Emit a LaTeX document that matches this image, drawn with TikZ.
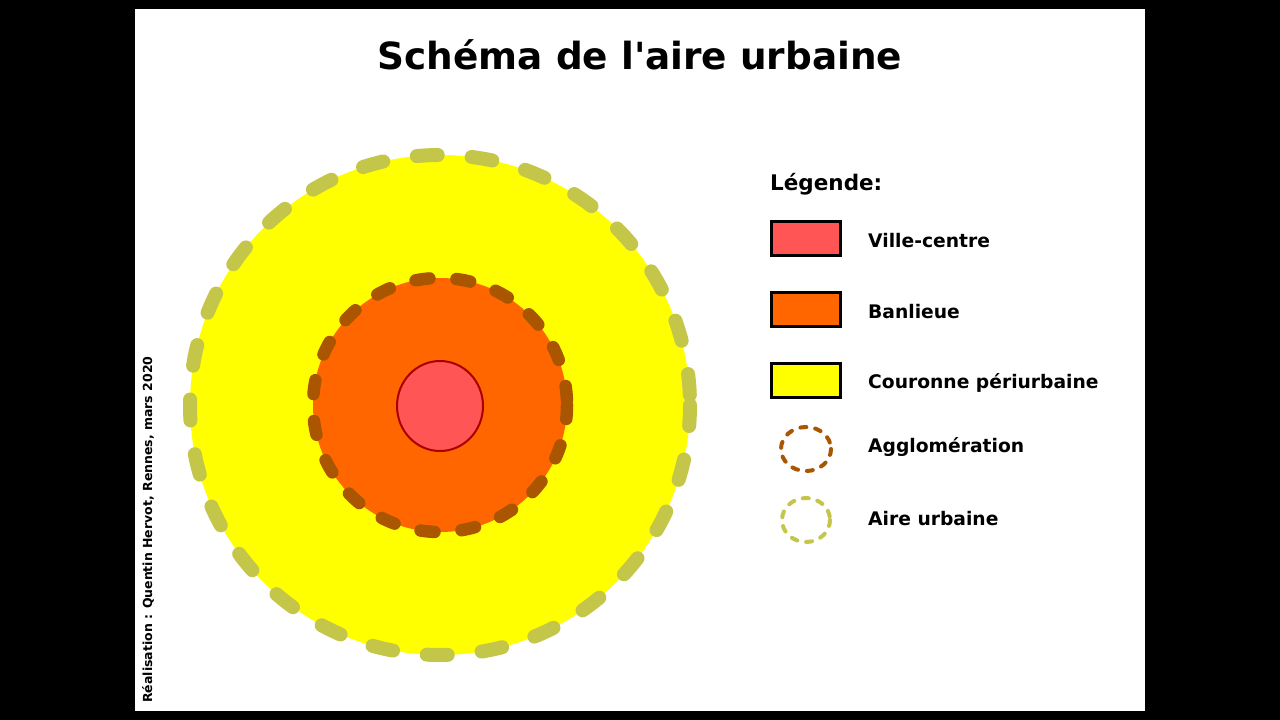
\documentclass[tikz,border=0pt]{standalone}
\usepackage{fontspec}
\setmainfont{DejaVu Sans}
\usepackage{xcolor}
\usepackage{tikz}
\usetikzlibrary{calc,shapes,backgrounds,positioning}

\definecolor{villecentre}{HTML}{FF5555}
\definecolor{bordville}{HTML}{AA0000}
\definecolor{banlieue}{HTML}{FF6600}
\definecolor{couronne}{HTML}{FFFF00}
\definecolor{agglo}{HTML}{AA5500}
\definecolor{aireurb}{HTML}{C4C64A}

\begin{document}
\begin{tikzpicture}[x=1pt,y=-1pt]
          %% AIRE URBAINE

          \tikzstyle{every node}=[font=\bfseries, text=black, inner sep=0pt]
          \tikzstyle{boite}=[draw=black, line width=3pt, minimum width=69pt, minimum height=34pt, anchor=north west]
          \tikzstyle{etiquette}=[anchor=west, font=\fontsize{18.7}{22}\selectfont\bfseries]
          \tikzstyle{limaire}=[draw=aireurb, line cap=round, line width=14pt, dash pattern=on 21pt off 34pt]
          \tikzstyle{limagglo}=[draw=agglo, line cap=round, line width=12.5pt, dash pattern=on 14pt off 27pt]
          \tikzstyle{petitcercle}=[line width=4pt, line cap=round, dash pattern=on 6pt off 9pt]

          \useasboundingbox (0,0) rectangle (1280,720);
          \fill[black] (0,0) rectangle (1280,720);
          \fill[white] (135,9) rectangle (1145,711);

          % titre
          \node[font=\fontsize{37.4}{44}\selectfont\bfseries] (titre) at (640,55) {Schéma de l\textquotesingle aire urbaine};

          % cercles
          \coordinate (centre) at (440,405);
          \fill[couronne] (centre) circle (250);
          \draw[limaire] (centre) circle (250);
          \fill[banlieue] (centre) circle (127);
          \draw[limagglo] (centre) circle (127);
          \draw[fill=villecentre, draw=bordville, line width=2pt] (440,406) ellipse (43 and 45);

          % legende
          \node[anchor=west, font=\fontsize{21.5}{26}\selectfont\bfseries] (legende) at (770,184) {Légende:};
          \node[boite, fill=villecentre] (bville) at (770,220) {};
          \node[boite, fill=banlieue] (bbanlieue) at (770,291) {};
          \node[boite, fill=couronne] (bcouronne) at (770,362) {};
          \draw[petitcercle, agglo] (806,449) ellipse (25 and 22);
          \draw[petitcercle, aireurb] (806,520) ellipse (24 and 22);

          \foreach \y/\nom/\texte in {241/lville/Ville-centre, 312/lbanlieue/Banlieue,
            383/lcouronne/Couronne périurbaine, 447/lagglo/Agglomération, 519/laire/Aire urbaine} {
            \node[etiquette] (\nom) at (868,\y) {\texte};
          }

          % auteur
          \node[rotate=90, anchor=west, font=\fontsize{12.5}{15}\selectfont\bfseries] (auteur) at (148,703)
          {Réalisation : Quentin Hervot, Rennes, mars 2020};
        \end{tikzpicture}
\end{document}
